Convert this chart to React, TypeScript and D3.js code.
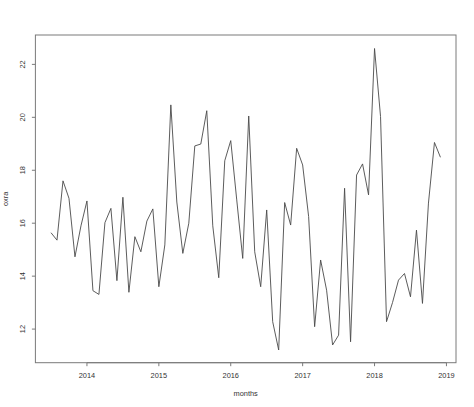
import React from "react";
import * as d3 from "d3";

const startYear = 2013;
const startMonth = 6; // July (0-based)
const oxra = [
  15.64, 15.36, 17.6, 16.94, 14.73, 15.9, 16.84, 13.45, 13.31, 16.02, 16.56, 13.83,
  16.98, 13.39, 15.49, 14.92, 16.08, 16.54, 13.6, 15.18, 20.47, 16.8, 14.86, 16.0,
  18.92, 18.99, 20.25, 15.9, 13.94, 18.36, 19.12, 16.88, 14.67, 20.05, 14.92, 13.6,
  16.5, 12.28, 11.21, 16.78, 15.93, 18.83, 18.2, 16.25, 12.09, 14.61, 13.47, 11.4,
  11.77, 17.32, 11.52, 17.82, 18.24, 17.07, 22.6, 20.03, 12.28, 13.0, 13.85, 14.1,
  13.22, 15.74, 12.97, 16.76, 19.05, 18.49,
];
const xTicks = [2014, 2015, 2016, 2017, 2018, 2019];
const yTicks = [12, 14, 16, 18, 20, 22];
const xTitle = "months";
const yTitle = "oxra";

export default function App() {
  const W = 474, H = 407;
  const left = 35.4, right = 456, top = 35, bottom = 362.7;
  const times = oxra.map((_, i) => startYear + (startMonth + i) / 12);
  const x = d3.scaleLinear().domain([2013.283, 2019.133]).range([left, right]);
  const y = d3.scaleLinear().domain([10.73, 23.11]).range([bottom, top]);
  const line = d3.line<number>().x((_, i) => x(times[i])).y((d) => y(d));
  const font = "'Liberation Sans', Arial, sans-serif";
  const fs = 7.4;
  const axisCol = "#7a7a7a";
  const textCol = "#333";
  return (
    <svg width={W} height={H} style={{ position: "absolute", left: 0, top: 0, background: "#fff" }}>
      <rect x={left} y={top} width={right - left} height={bottom - top} fill="none" stroke={axisCol} strokeWidth={1} />
      <path d={line(oxra) || ""} fill="none" stroke="#4a4a4a" strokeWidth={0.9} />
      {/* x axis */}
      <line x1={x(xTicks[0])} x2={x(xTicks[xTicks.length - 1])} y1={bottom} y2={bottom} stroke={axisCol} />
      {xTicks.map((t) => (
        <g key={t}>
          <line x1={x(t)} x2={x(t)} y1={bottom} y2={bottom + 3.5} stroke={axisCol} />
          <text x={x(t)} y={375.7} textAnchor="middle" dominantBaseline="central" fontFamily={font} fontSize={fs} fill={textCol}>
            {t}
          </text>
        </g>
      ))}
      {/* y axis */}
      {yTicks.map((t) => (
        <g key={t}>
          <line x1={left - 3.5} x2={left} y1={y(t)} y2={y(t)} stroke={axisCol} />
          <text
            transform={`translate(22.5,${y(t)}) rotate(-90)`}
            textAnchor="middle"
            dominantBaseline="central"
            fontFamily={font}
            fontSize={fs}
            fill={textCol}
          >
            {t}
          </text>
        </g>
      ))}
      <text x={(left + right) / 2} y={393.3} textAnchor="middle" dominantBaseline="central" fontFamily={font} fontSize={fs} fill={textCol}>
        {xTitle}
      </text>
      <text
        transform={`translate(5,${(top + bottom) / 2}) rotate(-90)`}
        textAnchor="middle"
        dominantBaseline="central"
        fontFamily={font}
        fontSize={fs}
        fill={textCol}
      >
        {yTitle}
      </text>
    </svg>
  );
}
